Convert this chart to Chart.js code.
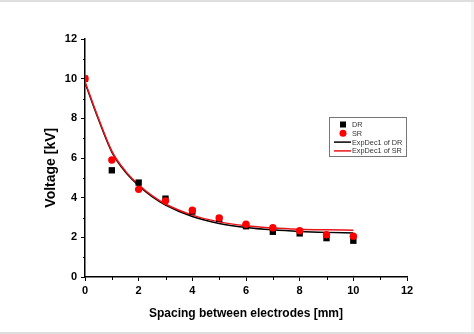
<!DOCTYPE html>
<html>
<head>
<meta charset="utf-8">
<script src="https://cdn.jsdelivr.net/npm/chart.js@4.4.0/dist/chart.umd.min.js"></script>
<style>
  body { margin: 0; background: #fff; }
  #wrap {
    position: relative; width: 474px; height: 334px; background: #fff;
    box-shadow: inset 0 2px 0 #dedede, inset 0 -2px 0 #dedede, inset -3px 0 0 #f3f3f3;
  }
  canvas { position: absolute; left: 0; top: 0; }
</style>
</head>
<body>
<div id="wrap"><canvas id="myChart" width="474" height="334"></canvas></div>
<script>
// measured points
const spacing = [0, 1, 2, 3, 4, 5, 6, 7, 8, 9, 10];
const drVoltage = [10.0, 5.38, 4.76, 3.95, 3.30, 2.93, 2.56, 2.28, 2.20, 1.96, 1.83];
const srVoltage = [10.0, 5.90, 4.42, 3.84, 3.37, 2.98, 2.66, 2.48, 2.33, 2.13, 2.06];

// fitted curves
const fitSpacing = [0, 0.5, 1, 1.5, 2, 2.5, 3, 4, 5, 6, 7, 8, 9, 10];
const drFit = [9.80, 7.95, 6.30, 5.30, 4.60, 4.05, 3.63, 3.05, 2.70, 2.50, 2.38, 2.30, 2.25, 2.22];
const srFit = [9.85, 8.00, 6.35, 5.35, 4.65, 4.10, 3.68, 3.12, 2.78, 2.58, 2.47, 2.41, 2.38, 2.36];

const legendLabels = ['DR', 'SR', 'ExpDec1 of DR', 'ExpDec1 of SR'];
const minorTicks = [1, 3, 5, 7, 9, 11];

const FONT = '"Liberation Sans", Arial, sans-serif';

function toXY(xs, ys) {
  return xs.map((x, i) => ({ x: x, y: ys[i] }));
}

// short outward ticks at the odd values
const minorTickPlugin = {
  id: 'minorTicks',
  afterDraw(chart) {
    const ctx = chart.ctx;
    const xs = chart.scales.x, ys = chart.scales.y;
    const area = chart.chartArea;
    ctx.save();
    ctx.strokeStyle = '#000';
    ctx.lineWidth = 1;
    minorTicks.forEach(v => {
      const px = Math.round(xs.getPixelForValue(v)) + 0.5;
      ctx.beginPath();
      ctx.moveTo(px, area.bottom);
      ctx.lineTo(px, area.bottom + 3);
      ctx.stroke();
      const py = Math.round(ys.getPixelForValue(v)) + 0.5;
      ctx.beginPath();
      ctx.moveTo(area.left, py);
      ctx.lineTo(area.left - 2, py);
      ctx.stroke();
    });
    ctx.restore();
  }
};

// boxed legend inside the plot, upper right
const boxLegendPlugin = {
  id: 'boxLegend',
  afterDraw(chart) {
    const ctx = chart.ctx;
    const area = chart.chartArea;
    const right = area.right;
    const left = right - 78;
    const top = area.top + 78;
    const rowH = 8.8;
    ctx.save();
    ctx.fillStyle = '#fff';
    ctx.fillRect(left, top, right - left, 40);
    ctx.strokeStyle = '#777';
    ctx.lineWidth = 1;
    ctx.strokeRect(left + 0.5, top + 0.5, right - left - 1, 39);
    ctx.font = '7.3px ' + FONT;
    ctx.textBaseline = 'middle';
    ctx.textAlign = 'left';
    legendLabels.forEach((label, i) => {
      const cy = top + 7.5 + i * rowH;
      const sx = left + 14;
      if (i === 0) {
        ctx.fillStyle = '#000';
        ctx.fillRect(sx - 3, cy - 3, 6, 6);
      } else if (i === 1) {
        ctx.fillStyle = '#ff0000';
        ctx.beginPath();
        ctx.arc(sx, cy, 3.5, 0, Math.PI * 2);
        ctx.fill();
      } else {
        ctx.strokeStyle = i === 2 ? '#000' : '#e8141a';
        ctx.lineWidth = 1.5;
        ctx.beginPath();
        ctx.moveTo(left + 5, cy);
        ctx.lineTo(left + 22, cy);
        ctx.stroke();
      }
      ctx.fillStyle = '#333';
      ctx.fillText(label, left + 23, cy + 0.5);
    });
    ctx.restore();
  }
};

const data = {
  datasets: [
    {
      label: 'SR',
      data: toXY(spacing, srVoltage),
      showLine: false,
      pointStyle: 'circle',
      pointRadius: 3.7,
      pointBackgroundColor: '#ff0000',
      pointBorderColor: '#ff0000',
      pointBorderWidth: 0,
      order: 0
    },
    {
      label: 'DR',
      data: toXY(spacing, drVoltage),
      showLine: false,
      pointStyle: 'rect',
      pointRadius: 4.5,
      pointBackgroundColor: '#000',
      pointBorderColor: '#000',
      pointBorderWidth: 0,
      order: 1
    },
    {
      label: 'ExpDec1 of SR',
      data: toXY(fitSpacing, srFit),
      showLine: true,
      borderColor: '#e8141a',
      borderWidth: 1.5,
      pointRadius: 0,
      cubicInterpolationMode: 'monotone',
      order: 2
    },
    {
      label: 'ExpDec1 of DR',
      data: toXY(fitSpacing, drFit),
      showLine: true,
      borderColor: '#000',
      borderWidth: 1.5,
      pointRadius: 0,
      cubicInterpolationMode: 'monotone',
      order: 3
    }
  ]
};

const config = {
  type: 'scatter',
  data: data,
  options: {
    responsive: false,
    animation: false,
    layout: { padding: { left: 0, right: 67, top: 39, bottom: 0 } },
    plugins: {
      legend: { display: false },
      tooltip: { enabled: false }
    },
    scales: {
      x: {
        type: 'linear',
        min: 0, max: 12,
        afterFit: s => { s.height = 57; },
        border: { display: true, color: '#000', width: 1.5 },
        grid: { drawOnChartArea: false, drawTicks: true, tickLength: 4, color: '#000', tickWidth: 1 },
        ticks: { stepSize: 2, padding: 3, color: '#000', font: { family: FONT, size: 11, weight: 'bold' } },
        title: {
          display: true, text: 'Spacing between electrodes [mm]', color: '#000',
          padding: { top: 0, bottom: 13 },
          font: { family: FONT, size: 12, weight: 'bold' }
        }
      },
      y: {
        type: 'linear',
        min: 0, max: 12,
        afterFit: s => { s.width = 85; },
        border: { display: true, color: '#000', width: 1.5 },
        grid: { drawOnChartArea: false, drawTicks: true, tickLength: 4, color: '#000', tickWidth: 1 },
        ticks: { stepSize: 2, padding: 4, color: '#000', font: { family: FONT, size: 11, weight: 'bold' } },
        title: {
          display: true, text: 'Voltage [kV]     ', color: '#000',
          padding: { top: 43, bottom: 0 },
          font: { family: FONT, size: 14, weight: 'bold' }
        }
      }
    }
  },
  plugins: [minorTickPlugin, boxLegendPlugin]
};

const myChart = new Chart(document.getElementById('myChart'), config);
</script>
</body>
</html>
